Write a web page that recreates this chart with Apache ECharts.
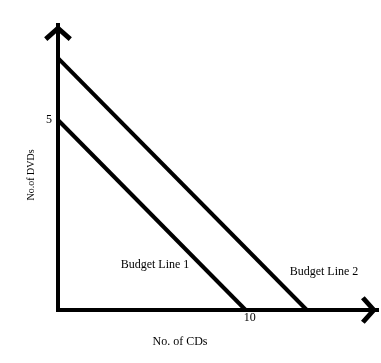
<!DOCTYPE html>
<html>
<head>
<meta charset="utf-8">
<script src="https://cdn.jsdelivr.net/npm/echarts@6/dist/echarts.min.js"></script>
<style>
  html, body { margin: 0; padding: 0; background: #ffffff; }
  #chart { width: 381px; height: 363px; }
</style>
</head>
<body>
<div id="chart"></div>
<script>
// Data
const budgetLine1 = [[0, 5], [10, 0]];
const budgetLine2 = [[0, 6.63], [13.26, 0]];
const xTickLabels = ['10'];
const yTickLabels = ['5'];
const xAxisTitle = 'No. of CDs';
const yAxisTitle = 'No.of DVDs';
const seriesNames = ['Budget Line 1', 'Budget Line 2'];

const FONT = '"Liberation Serif", "Times New Roman", serif';
const chevron = 'path://M13 0 L26 11.5 L23 15 L13 6 L3 15 L0 11.5 Z';

const chart = echarts.init(document.getElementById('chart'), null, { renderer: 'canvas' });

const axisCommon = {
  type: 'value',
  min: 0,
  interval: 5,
  splitLine: { show: false },
  axisTick: { show: false },
  axisLine: {
    show: true,
    symbol: ['none', chevron],
    symbolSize: [28, 16],
    symbolOffset: [0, -8],
    lineStyle: { color: '#000', width: 4, cap: 'square' }
  }
};

chart.setOption({
  animation: false,
  backgroundColor: '#ffffff',
  grid: { left: 58, right: 4, top: 25, bottom: 53, containLabel: false },
  xAxis: Object.assign({}, axisCommon, {
    max: 17,
    axisLabel: {
      margin: 2,
      color: '#000',
      fontFamily: FONT,
      fontSize: 12,
      padding: [0, 0, 0, 8],
      formatter: v => (xTickLabels.indexOf(String(v)) >= 0 ? String(v) : '')
    }
  }),
  yAxis: Object.assign({}, axisCommon, {
    max: 7.5,
    axisLabel: {
      margin: 6,
      color: '#000',
      fontFamily: FONT,
      fontSize: 12,
      formatter: v => (yTickLabels.indexOf(String(v)) >= 0 ? String(v) : '')
    }
  }),
  series: [
    {
      name: seriesNames[0],
      type: 'line',
      data: budgetLine1,
      symbol: 'none',
      lineStyle: { color: '#000', width: 4 }
    },
    {
      name: seriesNames[1],
      type: 'line',
      data: budgetLine2,
      symbol: 'none',
      lineStyle: { color: '#000', width: 4 }
    }
  ],
  graphic: [
    { type: 'text', x: 155, y: 265, style: { text: seriesNames[0], font: '12px ' + FONT, fill: '#000', textAlign: 'center', textVerticalAlign: 'middle' } },
    { type: 'text', x: 324, y: 272, style: { text: seriesNames[1], font: '12px ' + FONT, fill: '#000', textAlign: 'center', textVerticalAlign: 'middle' } },
    { type: 'text', x: 180, y: 342, style: { text: xAxisTitle, font: '12px ' + FONT, fill: '#000', textAlign: 'center', textVerticalAlign: 'middle' } },
    { type: 'text', x: 31.5, y: 175, rotation: Math.PI / 2, style: { text: yAxisTitle, font: '10px ' + FONT, fill: '#000', textAlign: 'center', textVerticalAlign: 'middle' } }
  ]
});
</script>
</body>
</html>
